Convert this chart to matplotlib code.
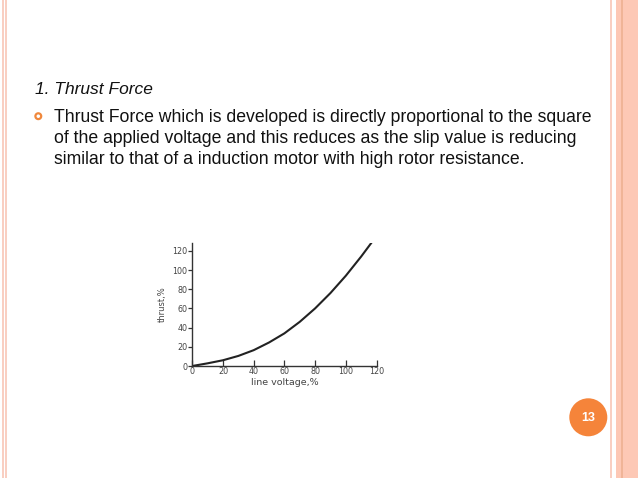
import matplotlib
matplotlib.use("Agg")
import matplotlib.pyplot as plt
from matplotlib.patches import Rectangle, Circle

# ---- data ----
line_voltage = [0, 10, 20, 30, 40, 50, 60, 70, 80, 90, 100, 110, 117]
thrust = [0, 2.8, 6, 10.5, 16.5, 24.5, 34, 46, 60, 76, 94, 114, 129]
x_ticks = [0, 20, 40, 60, 80, 100, 120]
y_ticks = [0, 20, 40, 60, 80, 100, 120]
x_label = "line voltage,%"
y_label = "thrust,%"

heading = "1. Thrust Force"
bullet_lines = [
    "Thrust Force which is developed is directly proportional to the square",
    "of the applied voltage and this reduces as the slip value is reducing",
    "similar to that of a induction motor with high rotor resistance.",
]
page_number = "13"

W, H = 638, 478
fig = plt.figure(figsize=(W / 100, H / 100), dpi=100)
fig.patch.set_facecolor("white")

# background / slide decoration in pixel coordinates
bg = fig.add_axes([0, 0, 1, 1])
bg.set_xlim(0, W)
bg.set_ylim(H, 0)
bg.axis("off")
pale = "#f9cfc2"
bg.add_patch(Rectangle((2.2, 0), 1.4, H, color=pale, lw=0))
bg.add_patch(Rectangle((5.2, 0), 1.4, H, color=pale, lw=0))
bg.add_patch(Rectangle((610.3, 0), 1.6, H, color=pale, lw=0))
bg.add_patch(Rectangle((616, 0), W - 616, H, color="#fdc8b5", lw=0))
bg.add_patch(Rectangle((621.3, 0), 1.8, H, color="#f0b497", lw=0))

font = "Liberation Sans"
bg.text(35, 94, heading, fontsize=12.5, style="italic", family=font,
        color="#111111", va="baseline", ha="left")
# bullet
bg.add_patch(Circle((38.3, 116.2), 2.9, fill=False, ec="#f0883c", lw=1.6))
ys = [121.7, 142.6, 163.5]
for y, t in zip(ys, bullet_lines):
    bg.text(54, y, t, fontsize=12.68, family=font, color="#111111",
            va="baseline", ha="left")

# page number badge
bg.add_patch(Circle((588.3, 417.3), 19, color="#f5843a", lw=0))
bg.text(588.3, 418, page_number, fontsize=9, weight="bold", family=font,
        color="white", ha="center", va="center")

# ---- chart ----
x0, y0 = 192.3, 366.0
px_x = 30.7 / 20
px_y = 19.2 / 20
xmax, ymax = 120.5, 128.5
ax = fig.add_axes([x0 / W, (H - y0) / H, xmax * px_x / W, ymax * px_y / H])
ax.set_xlim(0, xmax)
ax.set_ylim(0, ymax)
ax.patch.set_alpha(0)
for s in ["top", "right"]:
    ax.spines[s].set_visible(False)
for s in ["left", "bottom"]:
    ax.spines[s].set_color("#333333")
    ax.spines[s].set_linewidth(1.0)
ax.plot(line_voltage, thrust, color="#222222", lw=1.5, solid_capstyle="round")
ax.set_xticks(x_ticks)
ax.set_yticks(y_ticks)
ax.tick_params(axis="x", direction="in", length=4, width=0.9, color="#333333",
               labelsize=5.8, labelcolor="#444444", pad=1)
ax.tick_params(axis="y", direction="out", length=3, width=0.9, color="#333333",
               labelsize=5.8, labelcolor="#444444", pad=0.5)
ax.set_xticklabels([str(v) for v in x_ticks], family="DejaVu Sans")
ax.set_yticklabels([str(v) for v in y_ticks], family="DejaVu Sans")
ax.set_xlabel(x_label, fontsize=6.8, color="#444444", labelpad=1.5)
ax.set_ylabel(y_label, fontsize=6.0, color="#444444", labelpad=4)

fig.savefig("out.png", dpi=100)
